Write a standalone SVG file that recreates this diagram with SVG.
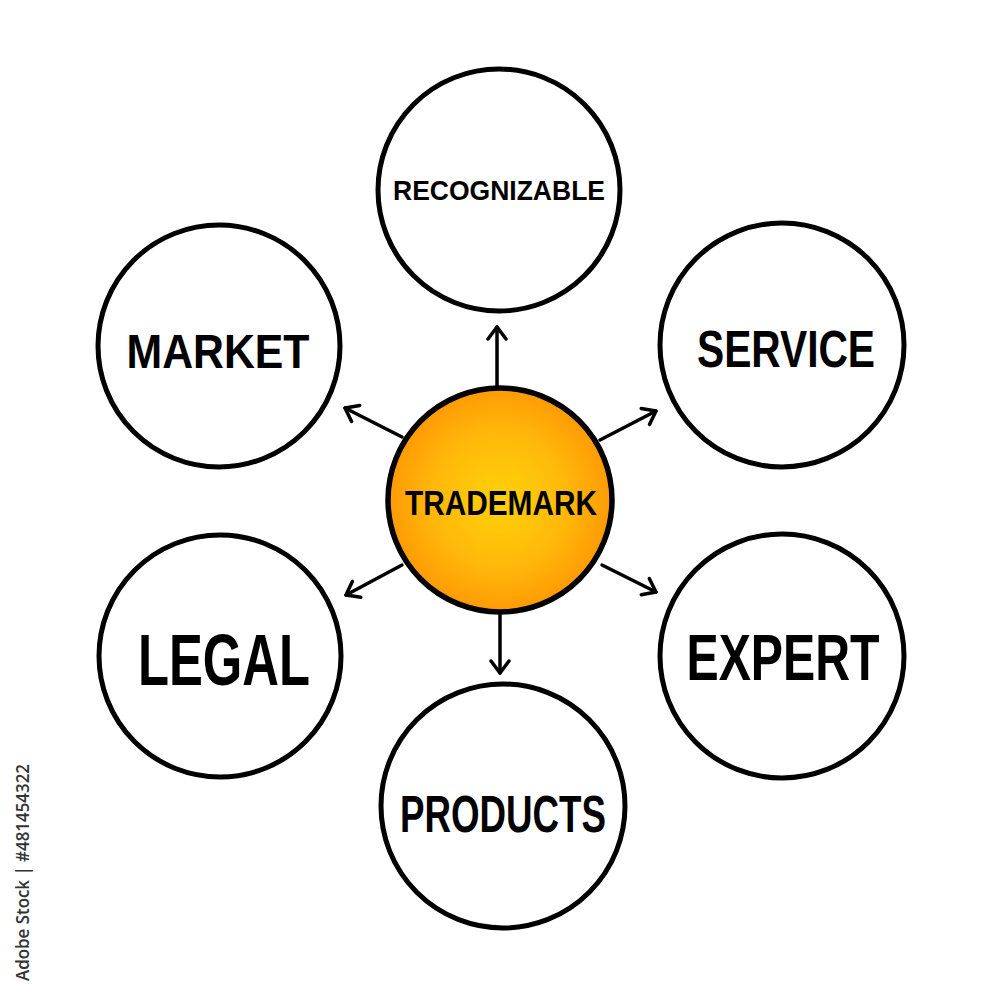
<svg xmlns="http://www.w3.org/2000/svg" width="1000" height="1000" viewBox="0 0 1000 1000">
<style>
.node{fill:#fff;stroke:#000;stroke-width:5}
.lbl{font-family:"Liberation Sans",Arial,sans-serif;font-weight:700;fill:#000;text-anchor:middle}
.conn{stroke:#000;stroke-width:3.5;stroke-linecap:round;fill:none}
.side{font-family:"Open Sans","Liberation Sans",sans-serif;font-size:18px;font-weight:600;fill:#333}
</style>
<defs>
<radialGradient id="sun" cx="0.5" cy="0.5" r="0.5">
<stop offset="0" stop-color="#FFD20A"/>
<stop offset="0.6" stop-color="#FFB80A"/>
<stop offset="1" stop-color="#FF9A05"/>
</radialGradient>
<marker id="arr" viewBox="0 0 22 22" refX="18" refY="11" markerWidth="22" markerHeight="22" markerUnits="userSpaceOnUse" orient="auto">
<path d="M6,2 L18,11 L6,20" fill="none" stroke="#000" stroke-width="3.5" stroke-linecap="round" stroke-linejoin="round"/>
</marker>
</defs>
<rect width="1000" height="1000" fill="#fff"/>
<g id="connectors">
<line class="conn" x1="497" y1="386" x2="497" y2="327" marker-end="url(#arr)"/>
<line class="conn" x1="500" y1="614" x2="500" y2="673" marker-end="url(#arr)"/>
<line class="conn" x1="402" y1="437" x2="345" y2="408" marker-end="url(#arr)"/>
<line class="conn" x1="600" y1="440" x2="656" y2="411" marker-end="url(#arr)"/>
<line class="conn" x1="402" y1="565" x2="346" y2="595" marker-end="url(#arr)"/>
<line class="conn" x1="602" y1="565" x2="656" y2="592" marker-end="url(#arr)"/>
</g>
<g id="trademark">
<circle cx="500" cy="500" r="112" fill="url(#sun)" stroke="#000" stroke-width="5.5"/>
<text class="lbl" x="501" y="515" font-size="35" textLength="192" lengthAdjust="spacingAndGlyphs">TRADEMARK</text>
</g>
<g id="recognizable">
<circle class="node" cx="499" cy="190" r="121"/>
<text class="lbl" x="499" y="200" font-size="28" textLength="212" lengthAdjust="spacingAndGlyphs">RECOGNIZABLE</text>
</g>
<g id="market">
<circle class="node" cx="219" cy="346" r="121"/>
<text class="lbl" x="218" y="368" font-size="49" textLength="183" lengthAdjust="spacingAndGlyphs">MARKET</text>
</g>
<g id="service">
<circle class="node" cx="782" cy="345" r="122"/>
<text class="lbl" x="786" y="367" font-size="52" textLength="178" lengthAdjust="spacingAndGlyphs">SERVICE</text>
</g>
<g id="legal">
<circle class="node" cx="220" cy="656" r="121"/>
<text class="lbl" x="224" y="685" font-size="72" textLength="172" lengthAdjust="spacingAndGlyphs">LEGAL</text>
</g>
<g id="expert">
<circle class="node" cx="782" cy="656" r="122"/>
<text class="lbl" x="783" y="680" font-size="65" textLength="193" lengthAdjust="spacingAndGlyphs">EXPERT</text>
</g>
<g id="products">
<circle class="node" cx="503" cy="806" r="122"/>
<text class="lbl" x="503" y="832" font-size="51" textLength="206" lengthAdjust="spacingAndGlyphs">PRODUCTS</text>
</g>
<text class="side" transform="translate(29,981) rotate(-90)" textLength="217" lengthAdjust="spacingAndGlyphs">Adobe Stock | #481454322</text>
</svg>
